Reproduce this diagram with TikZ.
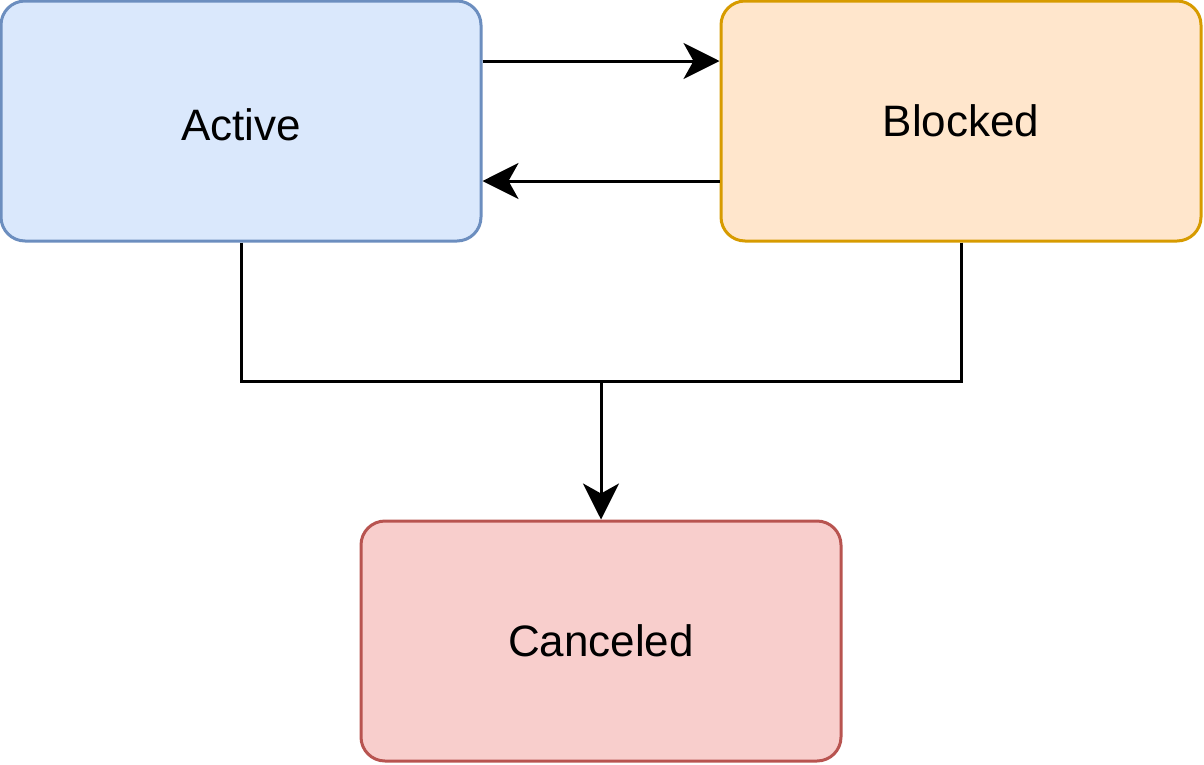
\documentclass[tikz,border=0pt]{standalone}
\usepackage{fontspec}
\setmainfont{Liberation Sans}
\usetikzlibrary{arrows.meta}
\definecolor{actfill}{HTML}{DAE8FC}
\definecolor{actdraw}{HTML}{6C8EBF}
\definecolor{blkfill}{HTML}{FFE6CC}
\definecolor{blkdraw}{HTML}{D79B00}
\definecolor{canfill}{HTML}{F8CECC}
\definecolor{candraw}{HTML}{B85450}
\tikzset{
  statebox/.style={rounded corners=24pt, minimum width=480pt, minimum height=240pt,
    line width=3pt, inner sep=0pt, font=\fontsize{44}{50}\selectfont},
  conn/.style={line width=3pt, -{Stealth[length=36pt, width=36pt, inset=10pt]}},
  plain/.style={line width=3pt}
}
\begin{document}
\begin{tikzpicture}[x=1pt,y=-1pt]
\useasboundingbox (0,0) rectangle (1204,764);
\node[statebox, fill=actfill, draw=actdraw] (active) at (241,121) {};
\node at (241,125) [font=\fontsize{44}{50}\selectfont] (activelabel) {Active};
\node[statebox, fill=blkfill, draw=blkdraw] (blocked) at (961,121) {Blocked};
\node[statebox, fill=canfill, draw=candraw] (canceled) at (601,641) {Canceled};
\coordinate (j) at (601,381);
\draw[conn] ([yshift=60pt]active.east) -- ([yshift=60pt]blocked.west);
\draw[conn] ([yshift=-60pt]blocked.west) -- ([yshift=-60pt]active.east);
\draw[plain] (active.south) |- (j);
\draw[plain] (blocked.south) |- (j);
\draw[conn] (j) -- (canceled.north);
\end{tikzpicture}
\end{document}
